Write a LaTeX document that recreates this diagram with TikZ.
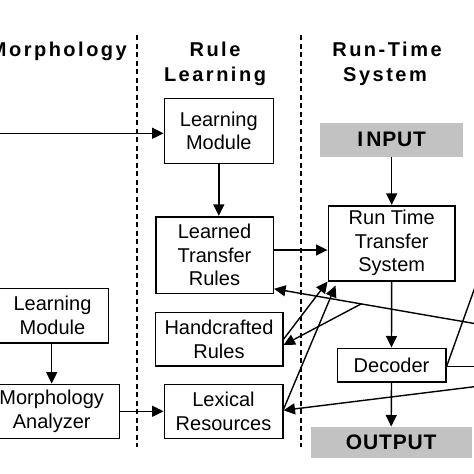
\documentclass[tikz,border=0pt]{standalone}
\usepackage{fontspec}
\setmainfont{Liberation Sans}
\newfontfamily\hdrfont{Liberation Sans}[LetterSpace=12.5]
\newfontfamily\iofont{Liberation Sans}[LetterSpace=4]
\usetikzlibrary{arrows.meta,calc}
\definecolor{boxgray}{RGB}{194,194,194}
\tikzset{
  box/.style={draw, line width=1.6pt, align=center, inner sep=0pt,
    font=\fontsize{20}{23.4}\selectfont},
  io/.style={fill=boxgray, inner sep=0pt, font=\fontsize{21}{24}\selectfont\iofont\bfseries},
  hdr/.style={font=\fontsize{20}{22}\selectfont\hdrfont\bfseries, inner sep=0pt, anchor=base},
  arr/.style={line width=1.4pt, -{Triangle[length=11.5pt,width=11pt]}},
  ln/.style={line width=1.4pt},
  sep/.style={line width=2pt, dash pattern=on 5pt off 3.5pt},
}
\begin{document}
\begin{tikzpicture}[x=1pt,y=-1pt]
\useasboundingbox (0,0) rectangle (474,474);
\fill[white] (0,0) rectangle (474,474);
\clip (0,0) rectangle (474,474);

% headers
\node[hdr, anchor=base east] (hmorph) at (127,56.7) {Morphology};
\node[hdr] (hrule) at (215,56.7) {Rule};
\node[hdr] (hlearn) at (215,81.7) {Learning};
\node[hdr] (hrun) at (387,56.7) {Run-Time};
\node[hdr] (hsys) at (385,81.7) {System};

% separators
\draw[sep] (137.3,35) -- (137.3,447);
\draw[sep] (300.7,35) -- (300.7,447);

% boxes
\node[box, minimum width=111.6pt, minimum height=54.4pt] (mlm) at (52.5,315.5) {Learning\\Module};
\node[box, minimum width=135.2pt, minimum height=54pt] (ma) at (51.7,411.3) {Morphology\\Analyzer};
\node[box, minimum width=109pt, minimum height=65pt] (lm) at (218.8,130.8) {Learning\\Module};
\node[box, minimum width=117.6pt, minimum height=76.6pt] (ltr) at (214.5,255) {Learned\\Transfer\\Rules};
\node[box, minimum width=127.4pt, minimum height=53.3pt] (hr) at (219,339.3) {Handcrafted\\Rules};
\node[box, minimum width=118.4pt, minimum height=54pt] (lex) at (223.5,411.3) {Lexical\\Resources};
\node[io, minimum width=143pt, minimum height=33.5pt] (in) at (391.7,139.8) {I\kern3pt NPUT};
\node[box, minimum width=126.7pt, minimum height=75pt] (rtts) at (391.7,243.2) {Run Time\\Transfer\\System};
\node[box, minimum width=108.4pt, minimum height=33.4pt] (dec) at (391.5,365) {Decoder};
\node[io, minimum width=161pt, minimum height=31pt] (out) at (391.2,442.2) {OUTPUT};

% straight connectors
\coordinate (lin) at (-2,133.3);
\draw[arr] (lin) -- (lin -| lm.west);
\draw[arr] (lm.south) -- (lm.south |- ltr.north);
\coordinate (c1) at (300,250);
\draw[arr] (c1 -| ltr.east) -- (c1 -| rtts.west);
\draw[arr] (in.south) -- (rtts.north);
\draw[arr] (rtts.south) -- (dec.north);
\draw[arr] (dec.south) -- (out.north);
\draw[arr] (ma.east) -- (lex.west);
\coordinate (mx) at (51.7,0);
\draw[arr] (mlm.south -| mx) -- (ma.north -| mx);

% diagonal connectors
\coordinate (e1) at (476,323.8);
\coordinate (br) at (361.7,303.6);
\draw[arr] (e1) -- ([yshift=5.3pt]ltr.south east);
\draw[arr] (br) -- ([yshift=-5.7pt]hr.east);
\draw[arr] (hr.east) -- (rtts.south west);
\draw[arr] ([yshift=2pt]lex.east) -- ([xshift=8pt,yshift=-4pt]rtts.south west);
\coordinate (e2) at (476,386.5);
\draw[arr] (e2) -- ([yshift=1pt]lex.east);
\coordinate (e3) at (476,366.7);
\coordinate (e4) at (476,284.4);
\draw[ln] ([yshift=-1.7pt]dec.east) -- (e3);
\draw[ln] ([yshift=-1.7pt]dec.east) -- (e4);
\end{tikzpicture}
\end{document}
